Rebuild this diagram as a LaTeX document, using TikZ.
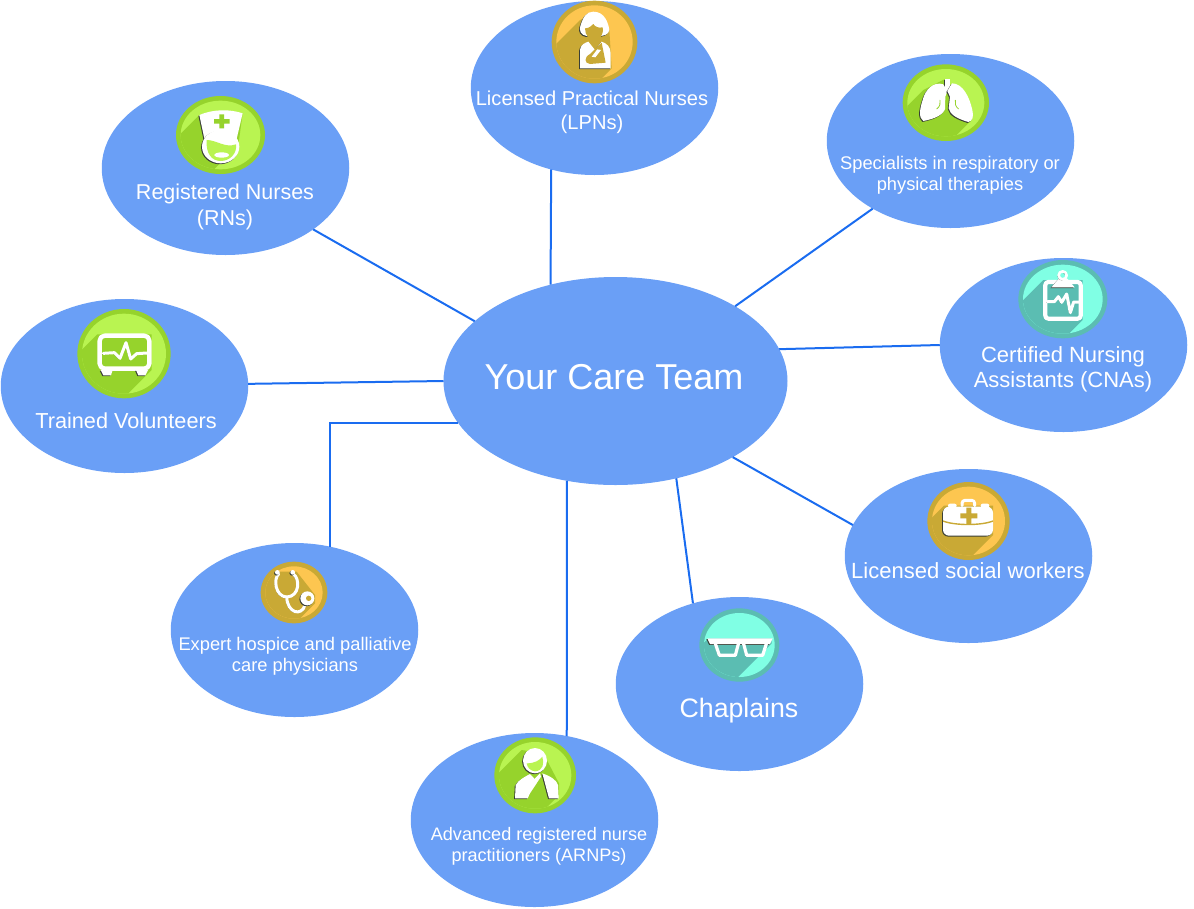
\documentclass[tikz,border=0pt]{standalone}
\usepackage{fontspec}
\setmainfont{Liberation Sans}
\usetikzlibrary{shapes.geometric}

\definecolor{teamblue}{HTML}{6A9FF6}
\definecolor{linkblue}{HTML}{1A6CF0}
\definecolor{glyphedge}{HTML}{3A3F36}
\definecolor{ringgreen}{HTML}{96D32C}
\definecolor{lightgreen}{HTML}{B9F451}
\definecolor{ringgold}{HTML}{C9A935}
\definecolor{lightgold}{HTML}{FDC650}
\definecolor{ringteal}{HTML}{5BBDB2}
\definecolor{lightteal}{HTML}{80FFE4}

\tikzset{
  team/.style={ellipse, fill=teamblue, minimum width=247.5pt, minimum height=174pt, inner sep=0pt, outer sep=0pt},
  hub/.style={team, minimum width=344pt, minimum height=208pt},
  caption/.style={text=white, align=center, inner sep=0pt},
  link/.style={draw=linkblue, line width=2pt},
  glyph/.style={fill=white, preaction={fill=glyphedge, transform canvas={xshift=-.9pt, yshift=-.9pt}}},
  glyphline/.style={draw=white, line join=round, line cap=round, preaction={draw=glyphedge, transform canvas={xshift=-.9pt, yshift=-.9pt}}}
}

% tone, origin, centre, x radius, y radius, shadow, glyph (glyph units are a third of a pixel)
\newcommand{\badge}[7]{
  \begin{scope}[shift={(#2)}, x=1pt/3, y=-1pt/3]
    \fill[ring#1] (#3) ellipse [x radius=#4, y radius=#5];
    \fill[light#1] (#3) ellipse [x radius=#4-14, y radius=#5-14];
    \begin{scope}
      \clip (#3) ellipse [x radius=#4-14, y radius=#5-14];
      \fill[ring#1] #6;
    \end{scope}
    #7
  \end{scope}
}

\begin{document}
\begin{tikzpicture}[x=1pt, y=-1pt]
   \useasboundingbox (0,0) rectangle (1194,908);

   \node[hub]  (care) at (615.5,381) {};
   \node[team] (rn)   at (225.5,168) {};
   \node[team] (lpn)  at (594.5,88) {};
   \node[team] (resp) at (950.5,141) {};
   \node[team] (cna)  at (1063.5,345) {};
   \node[team] (vol)  at (124.5,386) {};
   \node[team] (doc)  at (294.5,630) {};
   \node[team] (arnp) at (534.5,820) {};
   \node[team] (chap) at (739.5,684) {};
   \node[team] (lsw)  at (968.5,556) {};

   \path[link]
    (care.157) edge (rn.-35)
    (care.124) edge (lpn.-118.5)
    (care.32) edge (resp.-139)
    (care.11) edge (cna.west)
    (care.180) edge (vol.1)
    (care.-33) edge (lsw.165)
    (care.-58) edge (chap.120)
    (care.-116) edge (arnp.69);
   \draw[link] (doc.67) |- (care.195);

   \node[caption, font=\fontsize{36}{40}\selectfont] (caretext) at (614,377) {Your Care Team};
   \node[caption, font=\fontsize{21.5}{26}\selectfont] (rntext) at (225,207) {Registered Nurses\\(RNs)};
   \node[caption, font=\fontsize{20.1}{24}\selectfont] (lpntext) at (592,112) {Licensed Practical Nurses\\(LPNs)};
   \node[caption, font=\fontsize{18.3}{21.5}\selectfont] (resptext) at (950,175.5) {Specialists in respiratory or\\physical therapies};
   \node[caption, font=\fontsize{22}{25}\selectfont] (cnatext) at (1063,369) {Certified Nursing\\Assistants (CNAs)};
   \node[caption, font=\fontsize{21.7}{26}\selectfont] (voltext) at (126,421) {Trained Volunteers};
   \node[caption, font=\fontsize{18.3}{21}\selectfont] (doctext) at (295,656) {Expert hospice and palliative\\care physicians};
   \node[caption, font=\fontsize{18.1}{21}\selectfont] (arnptext) at (539,846) {Advanced registered nurse\\practitioners (ARNPs)};
   \node[caption, font=\fontsize{26.7}{30}\selectfont] (chaptext) at (739,711) {Chaplains};
   \node[caption, font=\fontsize{22}{26}\selectfont] (lswtext) at (968,571) {Licensed social workers};

   % registered nurse
   \badge{green}{160,85}{181.5,150}{133.5}{117}{(118,90) -- (248,85) -- (235,180) -- (-65,480) -- (-182,390) -- cycle}{
     \fill[glyph] (118,90) .. controls (160,72) and (210,72) .. (248,85) -- (228,170) -- (135,170) -- cycle;
     \fill[glyph] (182,185) ellipse [x radius=56, y radius=50];
     \fill[lightgreen] (140,165) .. controls (170,165) and (195,190) .. (228,178) .. controls (232,205) and (210,228) .. (182,228) .. controls (155,228) and (137,205) .. (140,165) -- cycle;
     \fill[white] (185,210) ellipse [x radius=22, y radius=8];
     \fill[ringgreen] (178,88) rectangle (192,130) (162,102) rectangle (209,116);
   }
   % practical nurse
   \badge{gold}{540,0}{163.5,126}{128.5}{124}{(120,60) -- (160,40) -- (208,90) -- (215,205) -- (-85,505) -- (-180,360) -- cycle}{
     \fill[glyph] (160,35) .. controls (195,35) and (205,70) .. (208,90) .. controls (205,105) and (190,108) .. (175,108) -- (140,108) .. controls (125,105) and (115,95) .. (122,75) .. controls (130,50) and (140,35) .. (160,35) -- cycle;
     \fill[ringgold] (135,85) .. controls (150,85) and (155,75) .. (160,72) .. controls (165,80) and (175,85) .. (188,82) .. controls (192,105) and (178,122) .. (163,122) .. controls (148,122) and (135,105) .. (135,85) -- cycle;
     \fill[glyph] (120,205) -- (120,150) .. controls (120,135) and (135,128) .. (145,125) -- (165,150) -- (185,125) .. controls (200,130) and (212,140) .. (212,160) -- (212,205) -- cycle;
     \fill[ringgold] (150,162) -- (185,128) -- (197,188) -- (150,192) .. controls (132,190) and (132,172) .. (150,162) -- cycle;
     \fill[white] (172,148) -- (183,150) -- (166,172) -- (155,170) -- cycle;
   }
   % lungs
   \badge{green}{890,55}{167.5,143}{129.5}{115}{(100,105) -- (165,72) -- (245,195) -- (-55,495) -- (-200,405) -- cycle}{
     \fill[glyph] (164,72) rectangle (180,110);
     \fill[glyph] (160,88) .. controls (130,78) and (105,105) .. (98,135) .. controls (88,165) and (86,188) .. (100,198) .. controls (130,192) and (158,182) .. (165,162) -- (166,125) -- (172,108) -- cycle;
     \fill[glyph] (186,85) .. controls (218,85) and (238,125) .. (247,165) .. controls (252,185) and (247,199) .. (235,201) .. controls (205,192) and (180,180) .. (176,160) -- (180,125) -- (172,108) -- cycle;
     \draw[ringgreen, line width=.8pt] (150,135) .. controls (152,145) and (150,155) .. (140,162) (196,135) .. controls (194,145) and (196,155) .. (206,162);
   }
   % clipboard
   \badge{teal}{1010,250}{158.5,147.5}{133.5}{117.5}{(100,90) -- (218,90) -- (218,210) -- (-82,510) -- (-200,390) -- cycle}{
     \draw[glyphline, line width=4.2pt, rounded corners=3pt] (106,96) rectangle (212,206);
     \fill[glyph] (124,112) -- (146,86) -- (172,86) -- (194,112) -- cycle;
     \draw[glyphline, line width=2.6pt] (158,76) circle [radius=12];
     \draw[glyphline, line width=3pt] (112,155) -- (133,155) -- (145,140) -- (155,157) -- (170,132) -- (181,188) -- (191,156) -- (207,156);
   }
   % monitor
   \badge{green}{70,305}{162,146}{140}{134}{(82,88) -- (245,88) -- (245,195) -- (-55,495) -- (-218,388) -- cycle}{
     \draw[glyphline, line width=4.4pt, rounded corners=5pt] (89,92) rectangle (238,191);
     \fill[glyph] (92,195) -- (128,195) -- (123,211) -- (100,211) -- cycle (198,195) -- (234,195) -- (226,211) -- (205,211) -- cycle;
     \draw[glyphline, line width=3pt] (100,145) -- (133,143) -- (150,160) -- (168,113) -- (182,162) -- (200,146) -- (230,144);
   }
   % stethoscope
   \badge{gold}{250,555}{132,112.5}{100}{92.5}{(40,85) -- (75,50) -- (140,50) -- (195,120) -- (195,145) -- (-105,445) -- (-260,385) -- cycle}{
     \draw[glyphline, line width=3pt] (86,57) .. controls (70,70) and (75,125) .. (110,126) .. controls (150,125) and (150,70) .. (130,57);
     \draw[glyphline, line width=3pt] (110,126) .. controls (112,175) and (155,185) .. (165,150);
     \fill[glyph] (82,52) circle [radius=7] (128,52) circle [radius=7];
     \fill[glyph] (172,130) circle [radius=21];
     \fill[ringgold] (176,130) circle [radius=8];
   }
   % nurse practitioner
   \badge{green}{485,730}{150.5,136}{122.5}{114}{(110,60) -- (175,70) -- (222,160) -- (222,195) -- (-78,495) -- (-190,360) -- cycle}{
     \fill[glyph] (150,92) ellipse [x radius=36, y radius=38];
     \fill[lightgreen] (125,100) .. controls (150,100) and (165,90) .. (172,80) .. controls (178,100) and (175,122) .. (150,124) .. controls (135,122) and (127,112) .. (125,100) -- cycle;
     \fill[glyph] (90,205) -- (92,165) .. controls (100,150) and (120,140) .. (135,132) -- (150,148) -- (125,172) -- (135,190) -- (128,205) -- cycle;
     \fill[glyph] (172,130) .. controls (195,138) and (215,150) .. (219,165) -- (221,205) -- (192,205) -- cycle;
     \fill[white] (150,145) -- (165,130) -- (168,140) -- (135,190) -- (110,188) .. controls (105,175) and (110,170) .. (125,170) -- cycle;
   }
   % glasses
   \badge{teal}{690,600}{148,135}{120}{110}{(55,115) -- (245,115) -- (245,130) -- (-55,430) -- (-245,415) -- cycle}{
     \fill[glyph] (52,115) -- (248,115) -- (240,132) -- (60,132) -- cycle;
     \draw[glyphline, line width=3.2pt] (75,128) -- (88,166) -- (136,166) -- (146,128) (160,128) -- (170,166) -- (218,166) -- (230,128);
   }
   % medical bag
   \badge{gold}{918,475}{151.5,138}{123.5}{117}{(78,92) -- (225,92) -- (225,180) -- (-75,480) -- (-222,392) -- cycle}{
     \draw[glyphline, line width=3pt, rounded corners=3pt] (132,92) -- (132,76) -- (170,76) -- (170,92);
     \fill[glyph, rounded corners=6pt] (75,95) rectangle (225,182);
     \fill[white, rounded corners=2pt] (90,86) rectangle (116,98) (188,86) rectangle (214,98);
     \draw[ringgold, line width=1.4pt] (75,138) .. controls (110,152) and (190,152) .. (225,138);
     \fill[ringgold] (145,98) rectangle (160,148) (127,115) rectangle (178,130);
   }
\end{tikzpicture}
\end{document}
